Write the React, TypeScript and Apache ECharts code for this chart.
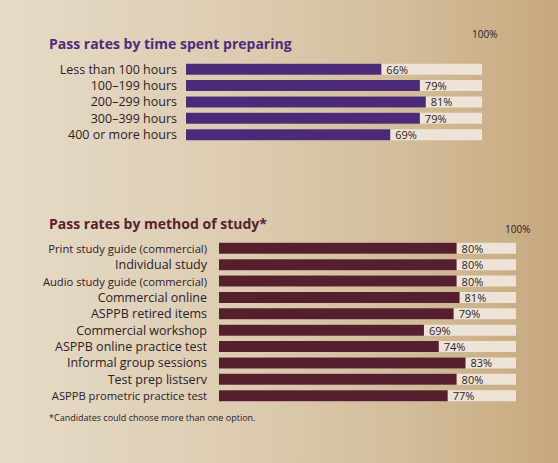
import React, { useEffect, useRef } from "react";
import * as echarts from "echarts";

const timeCategories = [
  "Less than 100 hours",
  "100–199 hours",
  "200–299 hours",
  "300–399 hours",
  "400 or more hours",
];
const timeValues = [66, 79, 81, 79, 69];

const methodCategories = [
  "Print study guide (commercial)",
  "Individual study",
  "Audio study guide (commercial)",
  "Commercial online",
  "ASPPB retired items",
  "Commercial workshop",
  "ASPPB online practice test",
  "Informal group sessions",
  "Test prep listserv",
  "ASPPB prometric practice test",
];
const methodValues = [80, 80, 80, 81, 79, 69, 74, 83, 80, 77];
const condensedLabels = [
  "Print study guide (commercial)",
  "Audio study guide (commercial)",
  "ASPPB prometric practice test",
];

const title1 = "Pass rates by time spent preparing";
const title2 = "Pass rates by method of study*";
const maxLabel = "100%";
const footnote = "*Candidates could choose more than one option.";

const FONT = "'Open Sans', 'Noto Sans', sans-serif";
const TEXT = "#2a2128";
const TRACK = "#ede4d7";

export default function App() {
  const ref = useRef<HTMLDivElement>(null);
  useEffect(() => {
    document.body.style.margin = "0";
    const chart = echarts.init(ref.current!, undefined, { renderer: "svg" });
    const valueLabel = {
      show: true,
      position: "right" as const,
      distance: 5,
      formatter: "{c}%",
      fontSize: 11,
      fontFamily: FONT,
      color: TEXT,
    };
    chart.setOption({
      animation: false,
      backgroundColor: "transparent",
      grid: [
        { left: 186, width: 296, top: 61.1, height: 81.7 },
        { left: 219, width: 297, top: 240.1, height: 163.8 },
      ],
      xAxis: [
        { gridIndex: 0, type: "value", min: 0, max: 100, show: false },
        { gridIndex: 1, type: "value", min: 0, max: 100, show: false },
      ],
      yAxis: [
        {
          gridIndex: 0,
          type: "category",
          inverse: true,
          data: timeCategories,
          axisLine: { show: false },
          axisTick: { show: false },
          axisLabel: { interval: 0, margin: 9, fontSize: 12.5, fontFamily: FONT, color: TEXT },
        },
        {
          gridIndex: 1,
          type: "category",
          inverse: true,
          data: methodCategories,
          axisLine: { show: false },
          axisTick: { show: false },
          axisLabel: {
            interval: 0,
            margin: 12,
            fontSize: 12.5,
            fontFamily: FONT,
            color: TEXT,
            formatter: (v: string) => (condensedLabels.includes(v) ? `{c|${v}}` : v),
            rich: {
              c: { fontSize: 11.2, fontFamily: FONT, color: TEXT },
            },
          },
        },
      ],
      series: [
        {
          type: "bar",
          xAxisIndex: 0,
          yAxisIndex: 0,
          data: timeValues,
          barWidth: 11,
          itemStyle: { color: "#4b2a77" },
          showBackground: true,
          backgroundStyle: { color: TRACK },
          label: valueLabel,
        },
        {
          type: "bar",
          xAxisIndex: 1,
          yAxisIndex: 1,
          data: methodValues,
          barWidth: 11,
          itemStyle: { color: "#561f2e" },
          showBackground: true,
          backgroundStyle: { color: TRACK },
          label: valueLabel,
        },
      ],
      graphic: [
        {
          type: "text",
          x: 49,
          y: 43,
          style: {
            text: title1,
            fill: "#4f2b7c",
            fontSize: 14,
            fontWeight: "bold",
            fontFamily: FONT,
            verticalAlign: "middle",
          },
        },
        {
          type: "text",
          x: 472,
          y: 34,
          style: { text: maxLabel, fill: TEXT, fontSize: 10, fontFamily: FONT, verticalAlign: "middle" },
        },
        {
          type: "text",
          x: 49,
          y: 223,
          style: {
            text: title2,
            fill: "#5a1f2e",
            fontSize: 14,
            fontWeight: "bold",
            fontFamily: FONT,
            verticalAlign: "middle",
          },
        },
        {
          type: "text",
          x: 505,
          y: 229,
          style: { text: maxLabel, fill: TEXT, fontSize: 10, fontFamily: FONT, verticalAlign: "middle" },
        },
        {
          type: "text",
          x: 49,
          y: 417,
          style: { text: footnote, fill: TEXT, fontSize: 9, fontFamily: FONT, verticalAlign: "middle" },
        },
      ],
    });
    return () => chart.dispose();
  }, []);
  return (
    <div
      ref={ref}
      style={{
        width: 558,
        height: 463,
        background: "linear-gradient(90deg, #e6dbc7 0%, #dccbb0 45%, #d2bb98 75%, #c6a87d 100%)",
      }}
    />
  );
}
